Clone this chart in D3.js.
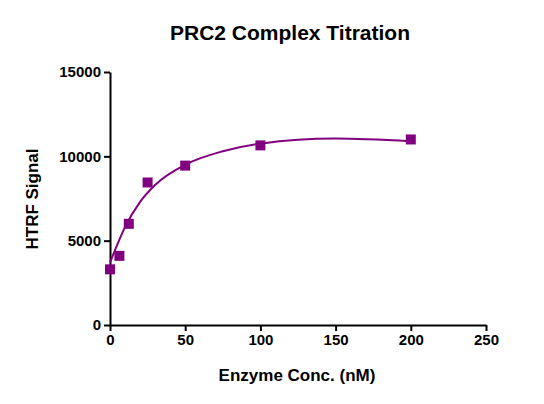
<!DOCTYPE html>
<html><head><meta charset="utf-8">
<script src="https://cdn.jsdelivr.net/npm/d3@7"></script>
<style>body{margin:0;background:#fff}text{font-family:"Liberation Sans",Arial,sans-serif;font-weight:bold}</style>
</head><body><svg id="c" width="544" height="404"></svg>
<script>
const conc = [0, 6.25, 12.5, 25, 50, 100, 200];
const signal = [3300, 4100, 6000, 8450, 9450, 10650, 11000];
const fitX = [0, 5, 10, 20, 30, 50, 75, 100, 150, 200];
const fitY = [3700, 4800, 5800, 7300, 8300, 9500, 10300, 10750, 11050, 10900];
const xTicks = [0, 50, 100, 150, 200, 250];
const yTicks = [0, 5000, 10000, 15000];

const svg = d3.select("#c");
const x = d3.scaleLinear().domain([0, 250]).range([110, 486]);
const y = d3.scaleLinear().domain([0, 15000]).range([325, 72]);
const col = "#800080";

const xa = svg.append("g").attr("transform", "translate(0,325)")
  .call(d3.axisBottom(x).tickValues(xTicks).tickFormat(d3.format("d")).tickSize(6).tickSizeOuter(0));
const ya = svg.append("g").attr("transform", "translate(110,0)")
  .call(d3.axisLeft(y).tickValues(yTicks).tickFormat(d3.format("d")).tickSize(6).tickSizeOuter(0));
[xa, ya].forEach(a => {
  a.selectAll("path,line").attr("stroke", "#000").attr("stroke-width", 2);
  a.selectAll("text").attr("font-size", 15).attr("fill", "#000");
});

svg.append("path").datum(fitX.map((v, i) => [v, fitY[i]]))
  .attr("fill", "none").attr("stroke", col).attr("stroke-width", 2)
  .attr("d", d3.line().x(d => x(d[0])).y(d => y(d[1])).curve(d3.curveMonotoneX));

svg.selectAll("rect.p").data(conc).enter().append("rect")
  .attr("x", (d) => x(d) - 5).attr("y", (d, i) => y(signal[i]) - 5)
  .attr("width", 10).attr("height", 10).attr("fill", col);

svg.append("text").attr("x", 290).attr("y", 40).attr("text-anchor", "middle")
  .attr("font-size", 21).text("PRC2 Complex Titration");
svg.append("text").attr("x", 297).attr("y", 381).attr("text-anchor", "middle")
  .attr("font-size", 17).text("Enzyme Conc. (nM)");
svg.append("text").attr("transform", "translate(38,199) rotate(-90)").attr("text-anchor", "middle")
  .attr("font-size", 17).text("HTRF Signal");
</script></body></html>
